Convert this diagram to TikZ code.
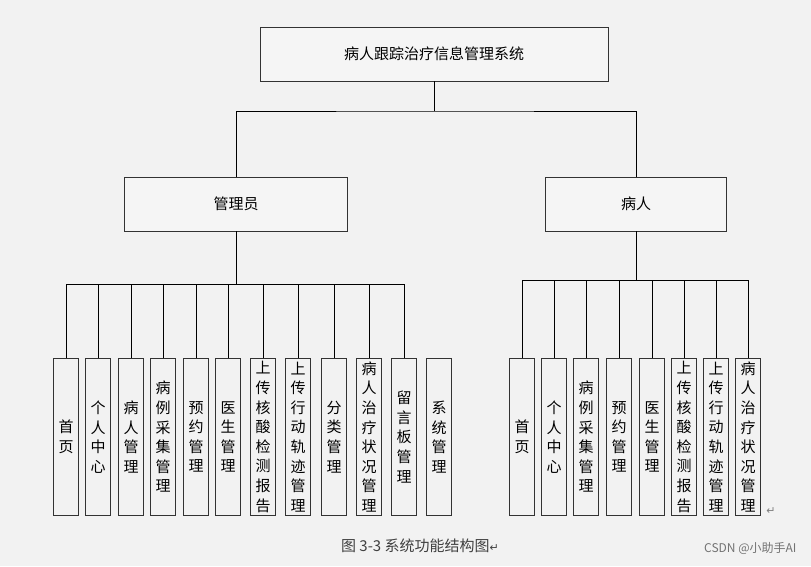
\documentclass[tikz,border=0pt]{standalone}
\usepackage{fontspec}
\newfontfamily\cjk{Noto Sans CJK SC}
\newfontfamily\dv{DejaVu Sans}
\begin{document}
\begin{tikzpicture}[x=1pt,y=-1pt,
  box/.style={draw=black!80,line width=0.9pt,fill=white!96!black,font=\cjk\fontsize{15}{18}\selectfont},
  leaf/.style={draw=black!80,line width=0.9pt,minimum width=25pt,minimum height=157pt,inner sep=0pt,anchor=north,
     font=\cjk\fontsize{15}{19.6}\selectfont,align=center,text width=16pt},
  ln/.style={black,line width=0.9pt}]
\fill[black!5] (0,0) rectangle (811,566);
\useasboundingbox (0,0) rectangle (811,566);
\node[box,minimum width=348pt,minimum height=54pt] (top) at (434,54) {病人跟踪治疗信息管理系统};
\node[box,minimum width=223pt,minimum height=54pt] (adm) at (236,204) {管理员};
\node[box,minimum width=181pt,minimum height=54pt] (pat) at (636,204) {病人};
\coordinate (tb) at (434,111);
\draw[ln] (top.south) -- (tb);
\draw[ln] (adm.north) |- (tb) -| (pat.north);
% admin leaves
\coordinate (ab) at (236,284);
\draw[ln] (adm.south) -- (ab);
\foreach \x/\t/\n in {66/首\\页/a1,98/个\\人\\中\\心/a2,131/病\\人\\管\\理/a3,163/病\\例\\采\\集\\管\\理/a4,196/预\\约\\管\\理/a5,228/医\\生\\管\\理/a6,263/上\\传\\核\\酸\\检\\测\\报\\告/a7,298/上\\传\\行\\动\\轨\\迹\\管\\理/a8,334/分\\类\\管\\理/a9,369/病\\人\\治\\疗\\状\\况\\管\\理/a10,404/留\\言\\板\\管\\理/a11}{
  \node[leaf] (\n) at (\x,358) {\t};
  \draw[ln] (\n.north) |- (ab);
}
\node[leaf] (a12) at (439,358) {系\\统\\管\\理};
% patient leaves
\coordinate (pb) at (636,280);
\draw[ln] (pat.south) -- (pb);
\foreach \x/\t/\n in {522/首\\页/p1,554/个\\人\\中\\心/p2,586/病\\例\\采\\集\\管\\理/p3,619/预\\约\\管\\理/p4,652/医\\生\\管\\理/p5,684/上\\传\\核\\酸\\检\\测\\报\\告/p6,716/上\\传\\行\\动\\轨\\迹\\管\\理/p7,748/病\\人\\治\\疗\\状\\况\\管\\理/p8}{
  \node[leaf] (\n) at (\x,358) {\t};
  \draw[ln] (\n.north) |- (pb);
}
\node[font=\dv\fontsize{11}{13}\selectfont,text=black!50] (rm) at (771,511) {↵};
\node[font=\cjk\fontsize{15}{18}\selectfont,text=black!75] (cap) at (420,546) {图 3-3 系统功能结构图{\dv\fontsize{11}{13}\selectfont ↵}};
\node[font=\cjk\fontsize{12}{14}\selectfont,text=black!55,anchor=east] (wm) at (800,548) {CSDN @小助手AI};
\end{tikzpicture}
\end{document}
